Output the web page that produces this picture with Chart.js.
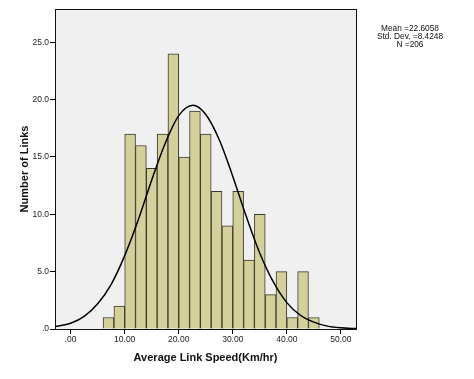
<!DOCTYPE html>
<html>
<head>
<meta charset="utf-8">
<script src="https://cdn.jsdelivr.net/npm/chart.js@4/dist/chart.umd.min.js"></script>
<style>
  html, body { margin: 0; padding: 0; background: #ffffff; }
  #wrap { position: relative; width: 474px; height: 379px; }
  #stats {
    position: absolute; left: 360px; top: 24px; width: 100px;
    text-align: center; font-family: "Liberation Sans", Arial, sans-serif;
    font-size: 8.3px; line-height: 8px; color: #111;
  }
</style>
</head>
<body>
<div id="wrap">
  <canvas id="c" width="474" height="379"></canvas>
  <div id="stats">Mean =22.6058<br>Std. Dev. =8.4248<br>N =206</div>
</div>
<script>
// Histogram bins (centres, width 2) and counts
const binCenters = [7, 9, 11, 13, 15, 17, 19, 21, 23, 25, 27, 29, 31, 33, 35, 37, 39, 41, 43, 45];
const counts     = [1, 2, 17, 16, 14, 17, 24, 15, 19, 17, 12, 9, 12, 6, 10, 3, 5, 1, 5, 1];

// Normal curve, points
const curveX = [-3, 0, 2.5, 5, 7.5, 10, 12.5, 15, 17.5, 20, 22.6, 25, 27.5, 30, 32.5, 35, 37.5, 40, 42.5, 45, 47.5, 50, 53];
const curveY = [0.2, 0.5, 1.1, 2.2, 3.9, 6.4, 9.5, 13.0, 16.2, 18.6, 19.5, 18.7, 16.5, 13.3, 9.8, 6.6, 4.1, 2.3, 1.2, 0.6, 0.25, 0.1, 0.03];

// Tick labels
const xTicks = [0, 10, 20, 30, 40, 50];
const xTickLabels = ['.00', '10.00', '20.00', '30.00', '40.00', '50.00'];
const yTicks = [0, 5, 10, 15, 20, 25];
const yTickLabels = ['.0', '5.0', '10.0', '15.0', '20.0', '25.0'];

const xTitle = 'Average Link Speed(Km/hr)';
const yTitle = 'Number of Links';

const frame = {
  id: 'frame',
  beforeDraw(chart) {
    const {ctx, chartArea: a} = chart;
    ctx.save();
    ctx.fillStyle = '#f0f0f0';
    ctx.fillRect(a.left, a.top, a.right - a.left, a.bottom - a.top);
    ctx.restore();
  },
  afterDraw(chart) {
    const {ctx, chartArea: a} = chart;
    ctx.save();
    ctx.strokeStyle = '#111';
    ctx.lineWidth = 1;
    ctx.strokeRect(Math.round(a.left) + 0.5, Math.round(a.top) + 0.5,
                   Math.round(a.right - a.left), Math.round(a.bottom - a.top));
    ctx.restore();
  }
};

const font = "'Liberation Sans', Arial, sans-serif";

new Chart(document.getElementById('c'), {
  data: {
    datasets: [
      {
        type: 'line',
        data: curveX.map((x, i) => ({x: x, y: curveY[i]})),
        borderColor: '#000',
        borderWidth: 1.5,
        pointRadius: 0,
        cubicInterpolationMode: 'monotone',
        fill: false
      },
      {
        type: 'bar',
        data: binCenters.map((x, i) => ({x: x, y: counts[i]})),
        backgroundColor: '#d4d09b',
        borderColor: '#3a392c',
        borderWidth: 1,
        barPercentage: 1,
        categoryPercentage: 1
      }
    ]
  },
  plugins: [frame],
  options: {
    responsive: false,
    animation: false,
    layout: { padding: { left: 0, right: 118, top: 9, bottom: 0 } },
    plugins: { legend: { display: false }, tooltip: { enabled: false } },
    scales: {
      x: {
        type: 'linear',
        offset: false,
        min: -2.9,
        max: 52.8,
        afterBuildTicks: s => { s.ticks = xTicks.map(v => ({value: v})); },
        afterFit: s => { s.height = 50; },
        ticks: {
          color: '#222',
          font: { family: font, size: 8.5 },
          padding: 1,
          maxRotation: 0,
          callback: (v) => xTickLabels[xTicks.indexOf(v)]
        },
        grid: { display: true, offset: false, drawOnChartArea: false, drawTicks: true, tickLength: 5, color: '#000' },
        border: { display: false },
        title: {
          display: true, text: xTitle, color: '#111',
          font: { family: font, size: 11, weight: 'bold' },
          padding: { top: 0, bottom: 14 }
        }
      },
      y: {
        type: 'linear',
        min: 0,
        max: 27.9,
        afterBuildTicks: s => { s.ticks = yTicks.map(v => ({value: v})); },
        afterFit: s => { s.width = 55; },
        ticks: {
          color: '#222',
          font: { family: font, size: 8.5 },
          padding: 1,
          callback: (v) => yTickLabels[yTicks.indexOf(v)]
        },
        grid: { display: true, drawOnChartArea: false, drawTicks: true, tickLength: 5, color: '#000' },
        border: { display: false },
        title: {
          display: true, text: yTitle, color: '#111',
          font: { family: font, size: 11, weight: 'bold' },
          padding: { top: 18, bottom: 0 }
        }
      }
    }
  }
});
</script>
</body>
</html>
